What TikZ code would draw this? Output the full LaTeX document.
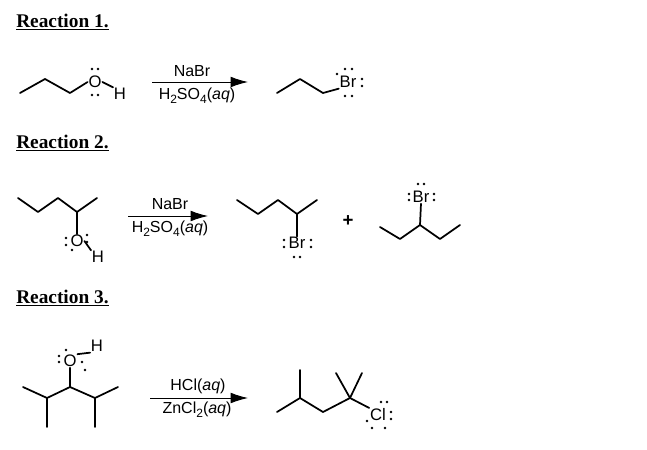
\documentclass[tikz,border=0pt]{standalone}
\usepackage{fontspec}
\setmainfont{Liberation Sans}
\newfontfamily\titlefont{Liberation Serif}
\usetikzlibrary{arrows.meta}
\newcommand{\sbs}[1]{\raisebox{-0.25em}{\fontsize{9}{10}\selectfont #1}}
\begin{document}
\begin{tikzpicture}[x=0.75pt,y=-0.75pt,
  bond/.style={line width=1.3pt,line cap=round,line join=round},
  atom/.style={inner sep=0.5pt,font=\fontsize{12.5}{13}\selectfont},
  lbl/.style={inner sep=1pt,font=\fontsize{12}{13}\selectfont},
  ttl/.style={anchor=west,inner sep=0pt,font=\titlefont\bfseries\fontsize{14.5}{16}\selectfont},
  rxn/.style={line width=0.7pt,-{Latex[length=13pt,width=8pt]}}]
\useasboundingbox (0,0) rectangle (647,450);
\newcommand{\dt}[1]{\fill #1 circle (1.4);}
% titles
\node[ttl] (t1) at (16,22) {\underline{Reaction 1.}};
\node[ttl] (t2) at (16,143) {\underline{Reaction 2.}};
\node[ttl] (t3) at (16,298) {\underline{Reaction 3.}};
% Reaction 1
\coordinate (a1) at (20,93); \coordinate (a2) at (45,79); \coordinate (a3) at (70,93);
\node[atom] (o1) at (95,82) {O};
\node[atom] (h1) at (120,94) {H};
\draw[bond] (a1)--(a2)--(a3)--(o1.west);
\draw[bond] (o1.east)--(h1.north west);
\dt{(92,69)}\dt{(98,69)}\dt{(92,95)}\dt{(98,95)}
\coordinate (r1s) at (152,82); \coordinate (r1e) at (248,82);
\draw[rxn] (r1s)--(r1e);
\node[lbl] (n1) at (192,71) {NaBr};
\node[lbl] (s1) at (197,96) {H\sbs{2}SO\sbs{4}(\emph{aq})};
\coordinate (b1) at (277,93); \coordinate (b2) at (300,79); \coordinate (b3) at (323,93);
\node[atom] (br1) at (348,82) {Br};
\draw[bond] (b1)--(b2)--(b3)--(br1.south west);
\dt{(345,69)}\dt{(352,69)}\dt{(362,79)}\dt{(362,86)}\dt{(345,96)}\dt{(352,96)}\dt{(337,74)}
% Reaction 2
\coordinate (c1) at (18,198); \coordinate (c2) at (38,212); \coordinate (c3) at (58,198);
\coordinate (c4) at (77,212); \coordinate (c5) at (97,198);
\node[atom] (o2) at (77,241) {O};
\node[atom] (h2) at (98,257) {H};
\draw[bond] (c1)--(c2)--(c3)--(c4)--(c5);
\draw[bond] (c4)--(o2.north);
\draw[bond] (o2.east)--(h2.north west);
\dt{(66,238)}\dt{(66,245)}\dt{(87,235)}\dt{(87,242)}\dt{(72,250)}
\coordinate (r2s) at (128,216); \coordinate (r2e) at (208,216);
\draw[rxn] (r2s)--(r2e);
\node[lbl] (n2) at (170,204) {NaBr};
\node[lbl] (s2) at (170,229) {H\sbs{2}SO\sbs{4}(\emph{aq})};
\coordinate (d1) at (237,200); \coordinate (d2) at (258,214); \coordinate (d3) at (278,200);
\coordinate (d4) at (297,214); \coordinate (d5) at (317,200);
\node[atom] (br2) at (297,243) {Br};
\draw[bond] (d1)--(d2)--(d3)--(d4)--(d5);
\draw[bond] (d4)--(br2.north);
\dt{(284,240)}\dt{(284,247)}\dt{(311,240)}\dt{(311,247)}\dt{(294,257)}\dt{(300,257)}
\node[font=\fontsize{14}{14}\selectfont\bfseries] (plus) at (348,221) {+};
\coordinate (e1) at (380,227); \coordinate (e2) at (400,239); \coordinate (e3) at (420,225);
\coordinate (e4) at (440,239); \coordinate (e5) at (460,225);
\node[atom] (br3) at (421,197) {Br};
\draw[bond] (e1)--(e2)--(e3)--(e4)--(e5);
\draw[bond] (e3)--(br3.south);
\dt{(418,184)}\dt{(424,184)}\dt{(409,194)}\dt{(409,200)}\dt{(434,194)}\dt{(434,200)}
% Reaction 3
\coordinate (f1) at (23,387); \coordinate (f2) at (47,398); \coordinate (f3) at (70,387);
\coordinate (f4) at (95,398); \coordinate (f5) at (118,387);
\coordinate (f6) at (47,427); \coordinate (f7) at (95,427);
\node[atom] (o3) at (70,361) {O};
\node[atom] (h3) at (97,346) {H};
\draw[bond] (f1)--(f2)--(f3)--(f4)--(f5);
\draw[bond] (f2)--(f6); \draw[bond] (f4)--(f7);
\draw[bond] (f3)--(o3.south);
\draw[bond] (o3.north east)--(h3.south west);
\dt{(59,356)}\dt{(59,362)}\dt{(82,362)}\dt{(85,370)}\dt{(66,350)}
\coordinate (r3s) at (150,398); \coordinate (r3e) at (248,398);
\draw[rxn] (r3s)--(r3e);
\node[lbl] (n3) at (198,386) {HCl(\emph{aq})};
\node[lbl] (s3) at (197,410) {ZnCl\sbs{2}(\emph{aq})};
\coordinate (g1) at (277,412); \coordinate (g2) at (300,398); \coordinate (g3) at (323,412);
\coordinate (g4) at (350,398); \coordinate (g5) at (300,370);
\coordinate (g6) at (336,373); \coordinate (g7) at (362,373);
\node[atom] (cl) at (378,415) {Cl};
\draw[bond] (g1)--(g2)--(g3)--(g4);
\draw[bond] (g2)--(g5); \draw[bond] (g4)--(g6); \draw[bond] (g4)--(g7);
\draw[bond] (g4)--(cl.north west);
\dt{(381,402)}\dt{(387,402)}\dt{(391,412)}\dt{(391,419)}\dt{(372,428)}\dt{(385,428)}\dt{(367,421)}
\end{tikzpicture}
\end{document}
